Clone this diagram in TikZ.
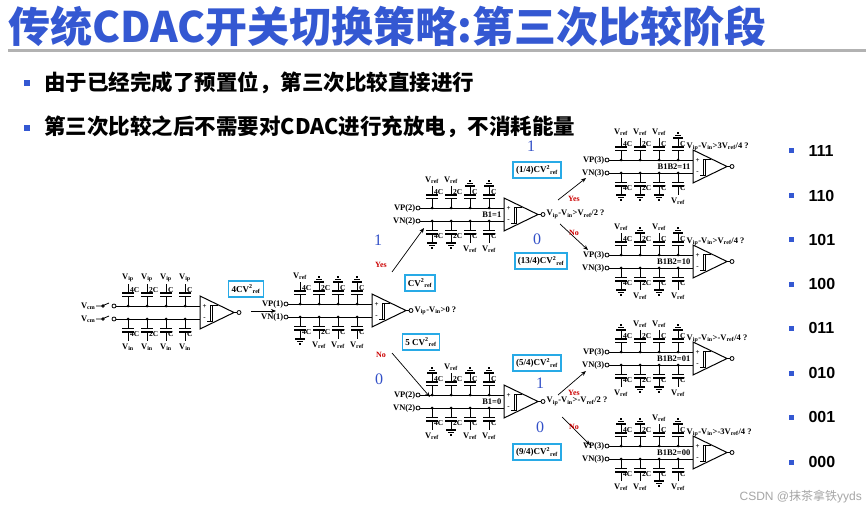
\documentclass[tikz,border=0pt]{standalone}
\usepackage{fontspec}
\setmainfont{Liberation Serif}
\newfontfamily\cjk{Noto Sans CJK SC}
\newfontfamily\sans{Liberation Sans}
\usetikzlibrary{arrows.meta}
\definecolor{tblue}{RGB}{52,88,210}
\definecolor{bbox}{RGB}{40,170,230}
\definecolor{nblue}{RGB}{50,80,200}
\tikzset{
 w/.style={line width=0.8pt},
 plate/.style={line width=1.4pt},
 lbl/.style={font=\fontsize{8.5}{8.5}\selectfont\bfseries,inner sep=0.5pt},
 capl/.style={font=\fontsize{7.5}{7.5}\selectfont\bfseries,inner sep=0.5pt,anchor=west},
 box/.style={draw=bbox,line width=1.6pt,inner sep=3pt,font=\fontsize{9}{9}\selectfont\bfseries,minimum height=16pt},
 num/.style={text=nblue,font=\fontsize{16}{16}\selectfont},
 yn/.style={text=red!80!black,font=\fontsize{8}{8}\selectfont\bfseries},
 arr/.style={line width=0.7pt,-{Stealth[length=5pt,width=4pt]}},
 code/.style={font=\sans\bfseries\fontsize{16}{16}\selectfont,anchor=west},
 bul/.style={fill=tblue,minimum size=6pt,inner sep=0pt}
}
\newcommand\R{V$_{\mathbf{ref}}$}
\newcommand\CV{CV$^{\mathbf{2}}{}_{\mathbf{ref}}$}
\newcommand\Tr[3]{\node[lbl] at (#1,#2+#3*28) {\R};}
\newcommand\Tip[3]{\node[lbl] at (#1,#2+#3*28) {V$_{\mathbf{ip}}$};}
\newcommand\Tin[3]{\node[lbl] at (#1,#2+#3*28) {V$_{\mathbf{in}}$};}
\newcommand\Tg[3]{\draw[line width=1.1pt] (#1-5,#2+#3*22)--(#1+5,#2+#3*22) (#1-3,#2+#3*24.5)--(#1+3,#2+#3*24.5) (#1-1,#2+#3*27)--(#1+1,#2+#3*27);}
\newcommand\capv[4]{%
 \draw[w] (#1,#2)--(#1,#2+#3*9.5) (#1,#2+#3*13)--(#1,#2+#3*22);
 \draw[plate] (#1-6,#2+#3*9.5)--(#1+6,#2+#3*9.5) (#1-6,#2+#3*13)--(#1+6,#2+#3*13);
 \fill (#1,#2) circle (1.5);
 \node[capl] at (#1+1.5,#2+#3*15.5) {#4};}
\newcommand\capname[1]{\ifcase#1 4C\or 2C\or C\else C\fi}
\newcommand\stage[7]{%
 \pgfmathsetmacro\yN{#2+13}%
 \pgfmathsetmacro\yM{#2+6.5}%
 \draw[w] (#1-12,#2)--(#1+72,#2) (#1-12,\yN)--(#1+72,\yN);
 \draw[w] (#1-14,#2) circle (2) (#1-14,\yN) circle (2);
 \node[lbl,anchor=east] at (#1-16,#2) {#6};
 \node[lbl,anchor=east] at (#1-16,\yN) {#7};
 \foreach \t [count=\i from 0] in {#3} {\pgfmathsetmacro\xx{#1+19*\i}\capv{\xx}{#2}{-1}{\capname{\i}}\csname T\t\endcsname{\xx}{#2}{-1}}
 \foreach \t [count=\i from 0] in {#4} {\pgfmathsetmacro\xx{#1+19*\i}\capv{\xx}{\yN}{1}{\capname{\i}}\csname T\t\endcsname{\xx}{\yN}{1}}
 \draw[line width=1pt] (#1+72,#2-10)--(#1+72,\yN+10)--(#1+106,\yM)--cycle;
 \node[font=\fontsize{7}{7}\selectfont\bfseries,inner sep=0] at (#1+76.5,#2+0.5) {+};
 \node[font=\fontsize{7}{7}\selectfont\bfseries,inner sep=0] at (#1+76.5,\yN-0.5) {-};
 \draw[w] (#1+79,\yN+2)--(#1+84,\yN+2)--(#1+84,#2-1)--(#1+90,#2-1) (#1+82,\yN+2)--(#1+82,#2-1)--(#1+85,#2-1);
 \draw[w] (#1+106,\yM)--(#1+109,\yM);
 \draw[w] (#1+111,\yM) circle (2);
 \node[lbl,anchor=east] at (#1+70,\yM) {#5};
}
\begin{document}
\begin{tikzpicture}[x=1pt,y=-1pt]
\useasboundingbox (0,0) rectangle (866,510);
\fill[white] (0,0) rectangle (866,510);
\node[anchor=west,text=tblue,inner sep=0,font=\cjk\bfseries\fontsize{42}{42}\selectfont] (title) at (8,26) {传统CDAC开关切换策略:第三次比较阶段};
\fill[gray!60] (8,49) rectangle (866,52);
\node[bul] (b1) at (27,83) {};
\node[anchor=west,inner sep=0,font=\cjk\bfseries\fontsize{21.5}{21.5}\selectfont] (t1) at (44,83) {由于已经完成了预置位，第三次比较直接进行};
\node[bul] (b2) at (27,128) {};
\node[anchor=west,inner sep=0,font=\cjk\bfseries\fontsize{21.5}{21.5}\selectfont] (t2) at (44,127) {第三次比较之后不需要对CDAC进行充放电，不消耗能量};
\stage{128}{306}{ip,ip,ip,ip}{in,in,in,in}{}{}{}
\node[lbl,anchor=east] (vcm1) at (96,306) {V$_{\mathbf{cm}}$};
\node[lbl,anchor=east] (vcm2) at (96,319) {V$_{\mathbf{cm}}$};
\draw[w] (vcm1.east)--(102,306) (102,306)--(109,303) (vcm2.east)--(102,319) (102,319)--(109,316);
\draw[w] (103,306) circle(1.2) (103,319) circle(1.2);
\stage{300}{304}{r,g,g,g}{g,r,r,r}{}{VP(1)}{VN(1)}
\node[lbl,anchor=west] (q1) at (414,310.5) {V$_{\mathbf{ip}}$-V$_{\mathbf{in}}$>0 ?};
\stage{432}{208}{r,r,g,g}{g,g,r,r}{B1=1}{VP(2)}{VN(2)}
\node[lbl,anchor=west] (q2) at (546,214.5) {V$_{\mathbf{ip}}$-V$_{\mathbf{in}}$>\R/2 ?};
\stage{432}{395}{g,r,g,g}{r,g,r,r}{B1=0}{VP(2)}{VN(2)}
\node[lbl,anchor=west] (q3) at (546,401.5) {V$_{\mathbf{ip}}$-V$_{\mathbf{in}}$>-\R/2 ?};
\stage{621}{160}{r,r,r,g}{g,g,g,r}{B1B2=11}{VP(3)}{VN(3)}
\node[lbl,anchor=west] (q4) at (686,147) {V$_{\mathbf{ip}}$-V$_{\mathbf{in}}$>3\R/4 ?};
\stage{621}{255}{r,g,r,g}{g,r,g,r}{B1B2=10}{VP(3)}{VN(3)}
\node[lbl,anchor=west] (q5) at (686,242) {V$_{\mathbf{ip}}$-V$_{\mathbf{in}}$>\R/4 ?};
\stage{621}{352}{g,r,r,g}{r,g,g,r}{B1B2=01}{VP(3)}{VN(3)}
\node[lbl,anchor=west] (q6) at (686,339) {V$_{\mathbf{ip}}$-V$_{\mathbf{in}}$>-\R/4 ?};
\stage{621}{446}{g,g,r,g}{r,r,g,r}{B1B2=00}{VP(3)}{VN(3)}
\node[lbl,anchor=west] (q7) at (686,433) {V$_{\mathbf{ip}}$-V$_{\mathbf{in}}$>-3\R/4 ?};
\node[box] (e0) at (246,289) {4\CV};
\node[box] (e1) at (420,283) {\CV};
\node[box] (e2) at (421,342) {5 \CV};
\node[box] (e3) at (537,170) {(1/4)\CV};
\node[box] (e4) at (541,261) {(13/4)\CV};
\node[box] (e5) at (537,363) {(5/4)\CV};
\node[box] (e6) at (537,452) {(9/4)\CV};
\coordinate (a0s) at (251,311); \coordinate (a0e) at (276,311);
\draw[arr] (a0s)--(a0e);
\coordinate (a1s) at (392,272); \coordinate (a1e) at (424,228);
\draw[arr] (a1s)--(a1e);
\coordinate (a2s) at (392,353); \coordinate (a2e) at (430,397);
\draw[arr] (a2s)--(a2e);
\coordinate (a3s) at (558,200); \coordinate (a3e) at (586,178);
\draw[arr] (a3s)--(a3e);
\coordinate (a4s) at (560,224); \coordinate (a4e) at (588,250);
\draw[arr] (a4s)--(a4e);
\coordinate (a5s) at (558,395); \coordinate (a5e) at (586,371);
\draw[arr] (a5s)--(a5e);
\coordinate (a6s) at (562,417); \coordinate (a6e) at (590,445);
\draw[arr] (a6s)--(a6e);
\node[yn] (y1) at (381,265) {Yes};
\node[yn] (n1) at (381,355) {No};
\node[yn] (y2) at (574,199) {Yes};
\node[yn] (n2) at (574,233) {No};
\node[yn] (y3) at (574,393) {Yes};
\node[yn] (n3) at (574,427) {No};
\node[num] (u1) at (531,146) {1};
\node[num] (u2) at (378,240) {1};
\node[num] (u3) at (537,239) {0};
\node[num] (u4) at (379,379) {0};
\node[num] (u5) at (540,383) {1};
\node[num] (u6) at (540,427) {0};
\foreach \c/\y [count=\k] in {111/151,110/196,101/240,100/284,011/328,010/373,001/417,000/462}{
 \node[bul,minimum size=5pt] (cb\k) at (791,\y) {};
 \node[code] (cc\k) at (805,\y) {\c};}
\node[anchor=east,text=gray!70,inner sep=0,font=\sans\fontsize{12}{12}\selectfont] (wm) at (862,497) {CSDN @{\cjk 抹茶拿铁}yyds};
\end{tikzpicture}
\end{document}
